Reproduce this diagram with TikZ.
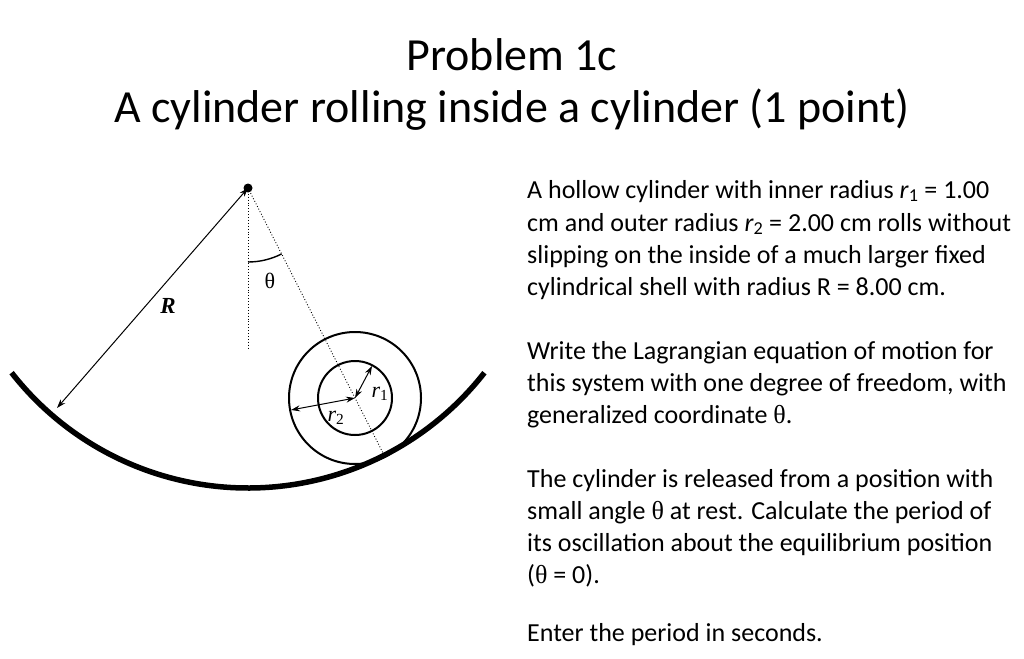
\documentclass[tikz,border=0pt]{standalone}
\usepackage{fontspec}
\usetikzlibrary{calc,arrows.meta}
\setmainfont{Carlito}
\newfontfamily\serif{Liberation Serif}
\begin{document}
\begin{tikzpicture}[x=1pt,y=-1pt,
  body/.style={anchor=base west,inner sep=0pt,font=\fontsize{26}{30}\selectfont},
  ttl/.style={inner sep=0pt,font=\fontsize{46}{52}\selectfont},
  lab/.style={inner sep=0pt,font=\serif\fontsize{22}{24}\selectfont},
  dim/.style={{Stealth[length=9pt,width=6pt]}-{Stealth[length=9pt,width=6pt]},line width=1pt},
  dots/.style={dotted,line width=0.9pt}]
\useasboundingbox (0,0) rectangle (1024,658);
\node[ttl] (t1) at (512,55) {Problem 1c};
\node[ttl] (t2) at (512,110) {A cylinder rolling inside a cylinder (1 point)};
% diagram
\coordinate (O) at (248,188);
\fill (O) circle (4.5);
\draw[line width=5.5pt] (248,188) ++(142:300) arc[start angle=142,end angle=38,radius=300];
\draw[dots] (O) -- (248,350);
\coordinate (C) at (355,398);
\coordinate (P) at ($(O)!1.28!(C)$);
\draw[dots] (O) -- (P);
\draw[line width=1.4pt] (248,262) arc[start angle=90,end angle=63,radius=74];
\node[lab] (th) at (270,281) {θ};
\draw[line width=2pt] (C) circle (66);
\draw[line width=2pt] (C) circle (37);
\coordinate (A) at (57,408);
\draw[dim] (A) -- (O);
\node[lab,font=\serif\bfseries\itshape\fontsize{23}{24}\selectfont] (R) at (168,306) {R};
\coordinate (E1) at ($(C)+(17,-32)$);
\coordinate (E2) at ($(C)+(-64,12)$);
\draw[dim] (C) -- (E1);
\draw[dim] (C) -- (E2);
\node[lab] (r1) at (380,394) {\textit{r}\textsubscript{1}};
\node[lab] (r2) at (336,418) {\textit{r}\textsubscript{2}};
% text
\node[body] (l1) at (527,198) {A hollow cylinder with inner radius \textit{r}\textsubscript{1} = 1.00};
\node[body] (l2) at (527,231) {cm and outer radius \textit{r}\textsubscript{2} = 2.00 cm rolls without};
\node[body] (l3) at (527,263) {slipping on the inside of a much larger fixed};
\node[body] (l4) at (527,295) {cylindrical shell with radius R = 8.00 cm.};
\node[body] (l5) at (527,359) {Write the Lagrangian equation of motion for};
\node[body] (l6) at (527,391) {this system with one degree of freedom, with};
\node[body] (l7) at (527,423) {generalized coordinate {\serif θ}.};
\node[body] (l8) at (527,487) {The cylinder is released from a position with};
\node[body] (l9) at (527,519) {small angle {\serif θ} at rest. Calculate the period of};
\node[body] (l10) at (527,551) {its oscillation about the equilibrium position};
\node[body] (l11) at (527,583) {({\serif θ} = 0).};
\node[body] (l12) at (527,641) {Enter the period in seconds.};
\end{tikzpicture}
\end{document}
